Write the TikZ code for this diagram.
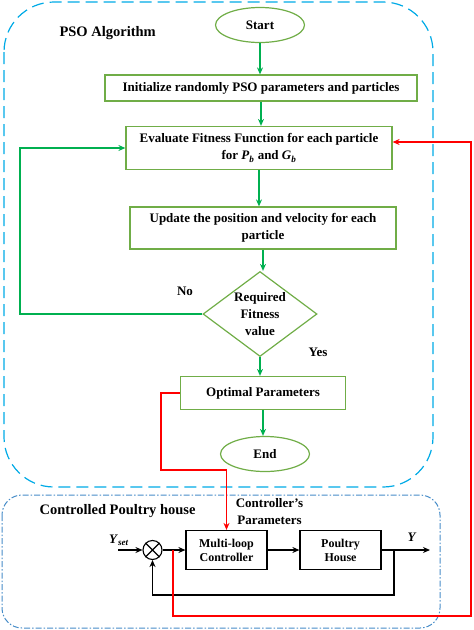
\documentclass[tikz,border=0pt]{standalone}
\usepackage{fontspec}
\setmainfont{Liberation Serif}
\usetikzlibrary{positioning,shapes.geometric,arrows.meta}
\definecolor{boxgreen}{RGB}{112,173,71}
\definecolor{arrgreen}{RGB}{0,176,80}
\definecolor{psoblue}{RGB}{0,170,230}
\definecolor{houseblue}{RGB}{70,140,200}
\newcommand{\subvar}[2]{\textit{#1}\textsubscript{\textit{#2}}}

\begin{document}
\begin{tikzpicture}
  [x=1pt,y=1pt,font=\bfseries\fontsize{13}{17}\selectfont,
   flow/.style={draw=boxgreen,line width=1.2pt,align=center,inner sep=2pt},
   term/.style={flow,ellipse,minimum width=89pt,minimum height=35pt},
   title/.style={anchor=west,font=\bfseries\fontsize{14.5}{17}\selectfont},
   garrow/.style={draw=arrgreen,line width=1.2pt,-{Stealth[length=7pt,width=6pt]}},
   rarrow/.style={draw=red,line width=1.2pt,-{Stealth[length=7pt,width=6pt]}},
   block/.style={draw,line width=1.2pt,align=center,minimum width=81pt,minimum height=39pt,
     font=\bfseries\fontsize{12}{14}\selectfont},
   karrow/.style={line width=1.1pt,-{Stealth[length=7pt,width=6pt]}}]
  \useasboundingbox (0,0) rectangle (474,-630);

  % the two frames
  \draw[psoblue,line width=1.2pt,dash pattern=on 12pt off 6pt,rounded corners=50pt]
    (4,-2) rectangle (433,-487);
  \draw[houseblue,line width=1pt,dash pattern=on 6pt off 2pt on 1.5pt off 2pt,rounded corners=20pt]
    (2,-495) rectangle (440,-628);
  \node[title] (pso) at (56,-33) {PSO Algorithm};
  \node[title] (house) at (36,-511) {Controlled Poultry house};

  % PSO flow
  \node[term] (start) at (260,-25) {Start};
  \node[flow,minimum width=312pt,minimum height=26pt] (init) at (261,-88)
    {Initialize randomly PSO parameters and particles};
  \node[flow,minimum width=266pt,minimum height=43pt] (eval) at (259,-148)
    {Evaluate Fitness Function for each particle\\ for \subvar{P}{b} and \subvar{G}{b}};
  \node[flow,minimum width=266pt,minimum height=42pt] (upd) at (263,-228)
    {Update the position and velocity for each\\ particle};
  \node[flow,diamond,aspect=1.34,minimum width=114pt,minimum height=85pt,inner sep=0pt]
    (test) at (260,-314) {Required\\ Fitness\\ value};
  \node[flow,minimum width=165pt,minimum height=33pt] (opt) at (263,-393) {Optimal Parameters};
  \node[term] (end) at (265,-454) {End};
  \node (no) at (185,-291) {No};
  \node (yes) at (318,-352) {Yes};

  \draw[garrow] (start.south) -- (start.south |- init.north);
  \draw[garrow] (init.south) -- (init.south |- eval.north);
  \draw[garrow] (eval.south) -- (eval.south |- upd.north);
  \draw[garrow] (upd.south) -- (upd.south |- test.north);
  \draw[garrow] (test.south) -- (test.south |- opt.north);
  \draw[garrow] (opt.south) -- (opt.south |- end.north);
  \coordinate (loop) at (20,-148);
  \draw[garrow] (test.west) -- (test.west -| loop) -- (loop) -- (eval.west);

  % poultry house loop
  \node (yset) at (119,-540) {\subvar{Y}{set}};
  \node[draw,circle,line width=1.1pt,minimum size=19pt,inner sep=0pt] (sum) at (152.5,-550) {};
  \draw[line width=1.1pt] (sum.north west) -- (sum.south east) (sum.north east) -- (sum.south west);
  \node[block] (ctrl) at (226.5,-550) {Multi-loop\\ Controller};
  \node[block] (plant) at (340.5,-550) {Poultry\\ House};
  \node (y) at (412,-537) {\textit{Y}};
  \node[align=center] (cpar) at (269.5,-511.5) {Controller’s\\ Parameters};
  \coordinate (in) at (118,-550);
  \coordinate (out) at (430,-550);
  \coordinate (fb) at (394,-595);
  \draw[karrow] (in) -- (sum.west);
  \draw[karrow] (sum.east) -- (ctrl.west);
  \draw[karrow] (ctrl.east) -- (plant.west);
  \draw[karrow] (plant.east) -- (out);
  \draw[karrow] (plant.east -| fb) -- (fb) -| (sum.south);

  % red links
  \coordinate (rdown) at (161,-470);
  \draw[rarrow] (opt.west) -| (rdown) -| (ctrl.north);
  \coordinate (br) at (173,-550);
  \coordinate (rc) at (471,-616);
  \draw[rarrow] (br) |- (rc) |- ([yshift=6pt]eval.east);
\end{tikzpicture}
\end{document}
